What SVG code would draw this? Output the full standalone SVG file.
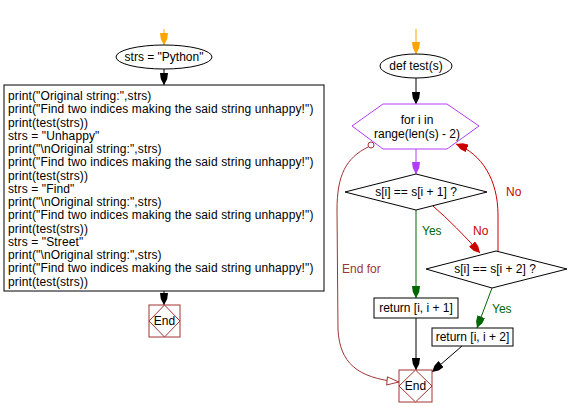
<svg xmlns="http://www.w3.org/2000/svg" width="568" height="417" viewBox="0 0 568 417">
<style>
text{font-family:"Liberation Sans",Arial,sans-serif;font-size:12px;fill:#000}
.c{text-anchor:middle}
.code text{letter-spacing:0.12px}
.shape{fill:#fff;stroke:#000;stroke-width:1}
.endbox{fill:#fff;stroke:#a33333;stroke-width:1}
.ln{fill:none;stroke-width:1}
.green{fill:#006600}
.red{fill:#cc0000}
.brown{fill:#a33333}
</style>
<defs>
<marker id="mk-orange" markerUnits="userSpaceOnUse" markerWidth="12" markerHeight="8" viewBox="0 0 12 8" refX="12" refY="4" orient="auto"><path d="M0,0 L6,0.8 L12,4 L6,7.2 L0,8 Z" fill="#ffa500"/></marker>
<marker id="mk-black" markerUnits="userSpaceOnUse" markerWidth="12" markerHeight="8" viewBox="0 0 12 8" refX="12" refY="4" orient="auto"><path d="M0,0 L6,0.8 L12,4 L6,7.2 L0,8 Z" fill="#000"/></marker>
<marker id="mk-purple" markerUnits="userSpaceOnUse" markerWidth="12" markerHeight="8" viewBox="0 0 12 8" refX="12" refY="4" orient="auto"><path d="M0,0 L6,0.8 L12,4 L6,7.2 L0,8 Z" fill="#b23cfc"/></marker>
<marker id="mk-green" markerUnits="userSpaceOnUse" markerWidth="12" markerHeight="8" viewBox="0 0 12 8" refX="12" refY="4" orient="auto"><path d="M0,0 L6,0.8 L12,4 L6,7.2 L0,8 Z" fill="#006600"/></marker>
<marker id="mk-red" markerUnits="userSpaceOnUse" markerWidth="12" markerHeight="8" viewBox="0 0 12 8" refX="12" refY="4" orient="auto"><path d="M0,0 L6,0.8 L12,4 L6,7.2 L0,8 Z" fill="#cc0000"/></marker>
<marker id="mk-open" markerUnits="userSpaceOnUse" markerWidth="14" markerHeight="10" viewBox="-1 -1 14 10" refX="12" refY="4" orient="auto"><path d="M0,0 L12,4 L0,8 Z" fill="#fff" stroke="#a33333" stroke-width="1"/></marker>
</defs>

<g id="connectors">
<line class="ln" x1="164" y1="29" x2="164" y2="45" stroke="#ffa500" marker-end="url(#mk-orange)"/>
<line class="ln" x1="164" y1="69" x2="164" y2="85" stroke="#000" marker-end="url(#mk-black)"/>
<line class="ln" x1="164" y1="291" x2="164" y2="305" stroke="#000" marker-end="url(#mk-black)"/>
<line class="ln" x1="416" y1="29" x2="416" y2="54" stroke="#ffa500" marker-end="url(#mk-orange)"/>
<line class="ln" x1="416" y1="78" x2="416" y2="104" stroke="#000" marker-end="url(#mk-black)"/>
<line class="ln" x1="416" y1="149" x2="416" y2="174" stroke="#b23cfc" marker-end="url(#mk-purple)"/>
<line class="ln" x1="416" y1="210" x2="416" y2="298" stroke="#006600" marker-end="url(#mk-green)"/>
<line class="ln" x1="416" y1="318" x2="416" y2="370" stroke="#000" marker-end="url(#mk-black)"/>
<path class="ln" d="M433,206 Q456,226 480,253" stroke="#cc0000" marker-end="url(#mk-red)"/>
<path class="ln" d="M498,252 L498,215 C498,180 482,154 456,144" stroke="#cc0000" marker-end="url(#mk-red)"/>
<line class="ln" x1="492" y1="288" x2="477" y2="328" stroke="#006600" marker-end="url(#mk-green)"/>
<line class="ln" x1="462" y1="346" x2="432" y2="372" stroke="#000" marker-end="url(#mk-black)"/>
<path class="ln" d="M368,147 C346,158 337,175 337,210 L338,330 C340,362 356,378 399,382" stroke="#a33333" marker-end="url(#mk-open)"/>
<circle cx="371" cy="145" r="3" fill="#fff" stroke="#a33333"/>
<text x="422" y="235" class="green">Yes</text>
<text x="473" y="235" class="red">No</text>
<text x="506" y="196" class="red">No</text>
<text x="492" y="313" class="green">Yes</text>
<text x="342" y="273" class="brown">End for</text>
</g>

<g id="start-main">
<ellipse class="shape" cx="164" cy="57" rx="48" ry="12"/>
<text x="164" y="61" class="c">strs = "Python"</text>
</g>

<g id="main-code" class="code">
<rect class="shape" x="4" y="85" width="320" height="206"/>
<text x="8" y="100">print("Original string:",strs)</text>
<text x="8" y="113.3">print("Find two indices making the said string unhappy!")</text>
<text x="8" y="126.5">print(test(strs))</text>
<text x="8" y="139.8">strs = "Unhappy"</text>
<text x="8" y="153">print("\nOriginal string:",strs)</text>
<text x="8" y="166.3">print("Find two indices making the said string unhappy!")</text>
<text x="8" y="179.6">print(test(strs))</text>
<text x="8" y="192.8">strs = "Find"</text>
<text x="8" y="206.1">print("\nOriginal string:",strs)</text>
<text x="8" y="219.4">print("Find two indices making the said string unhappy!")</text>
<text x="8" y="232.6">print(test(strs))</text>
<text x="8" y="245.9">strs = "Street"</text>
<text x="8" y="259.1">print("\nOriginal string:",strs)</text>
<text x="8" y="272.4">print("Find two indices making the said string unhappy!")</text>
<text x="8" y="285.7">print(test(strs))</text>
</g>

<g id="end-main">
<rect class="endbox" x="149" y="305" width="31" height="32"/>
<polygon class="endbox" points="164.5,305 180,321 164.5,337 149,321"/>
<text x="164.5" y="325" class="c">End</text>
</g>

<g id="def-test">
<ellipse class="shape" cx="416" cy="66" rx="36" ry="12"/>
<text x="416" y="70" class="c">def test(s)</text>
</g>

<g id="for-loop">
<polygon points="352,126 383,104 447,104 479,126 447,149 383,149" fill="#fff" stroke="#b23cfc"/>
<text x="417" y="124" class="c">for i in</text>
<text x="417" y="138" class="c">range(len(s) - 2)</text>
</g>

<g id="cond1">
<polygon class="shape" points="345,192 416,174 487,192 416,210"/>
<text x="416" y="196" class="c">s[i] == s[i + 1] ?</text>
</g>

<g id="cond2">
<polygon class="shape" points="426,269 496,251 567,269 492,288"/>
<text x="495" y="273" class="c">s[i] == s[i + 2] ?</text>
</g>

<g id="ret1">
<rect class="shape" x="374" y="298" width="84" height="20"/>
<text x="416" y="312" class="c">return [i, i + 1]</text>
</g>

<g id="ret2">
<rect class="shape" x="432" y="328" width="81" height="18"/>
<text x="472.5" y="341" class="c">return [i, i + 2]</text>
</g>

<g id="end-test">
<rect class="endbox" x="399" y="370" width="33" height="32"/>
<polygon class="endbox" points="415.5,370 432,386 415.5,402 399,386"/>
<text x="415.5" y="390" class="c">End</text>
</g>
</svg>
